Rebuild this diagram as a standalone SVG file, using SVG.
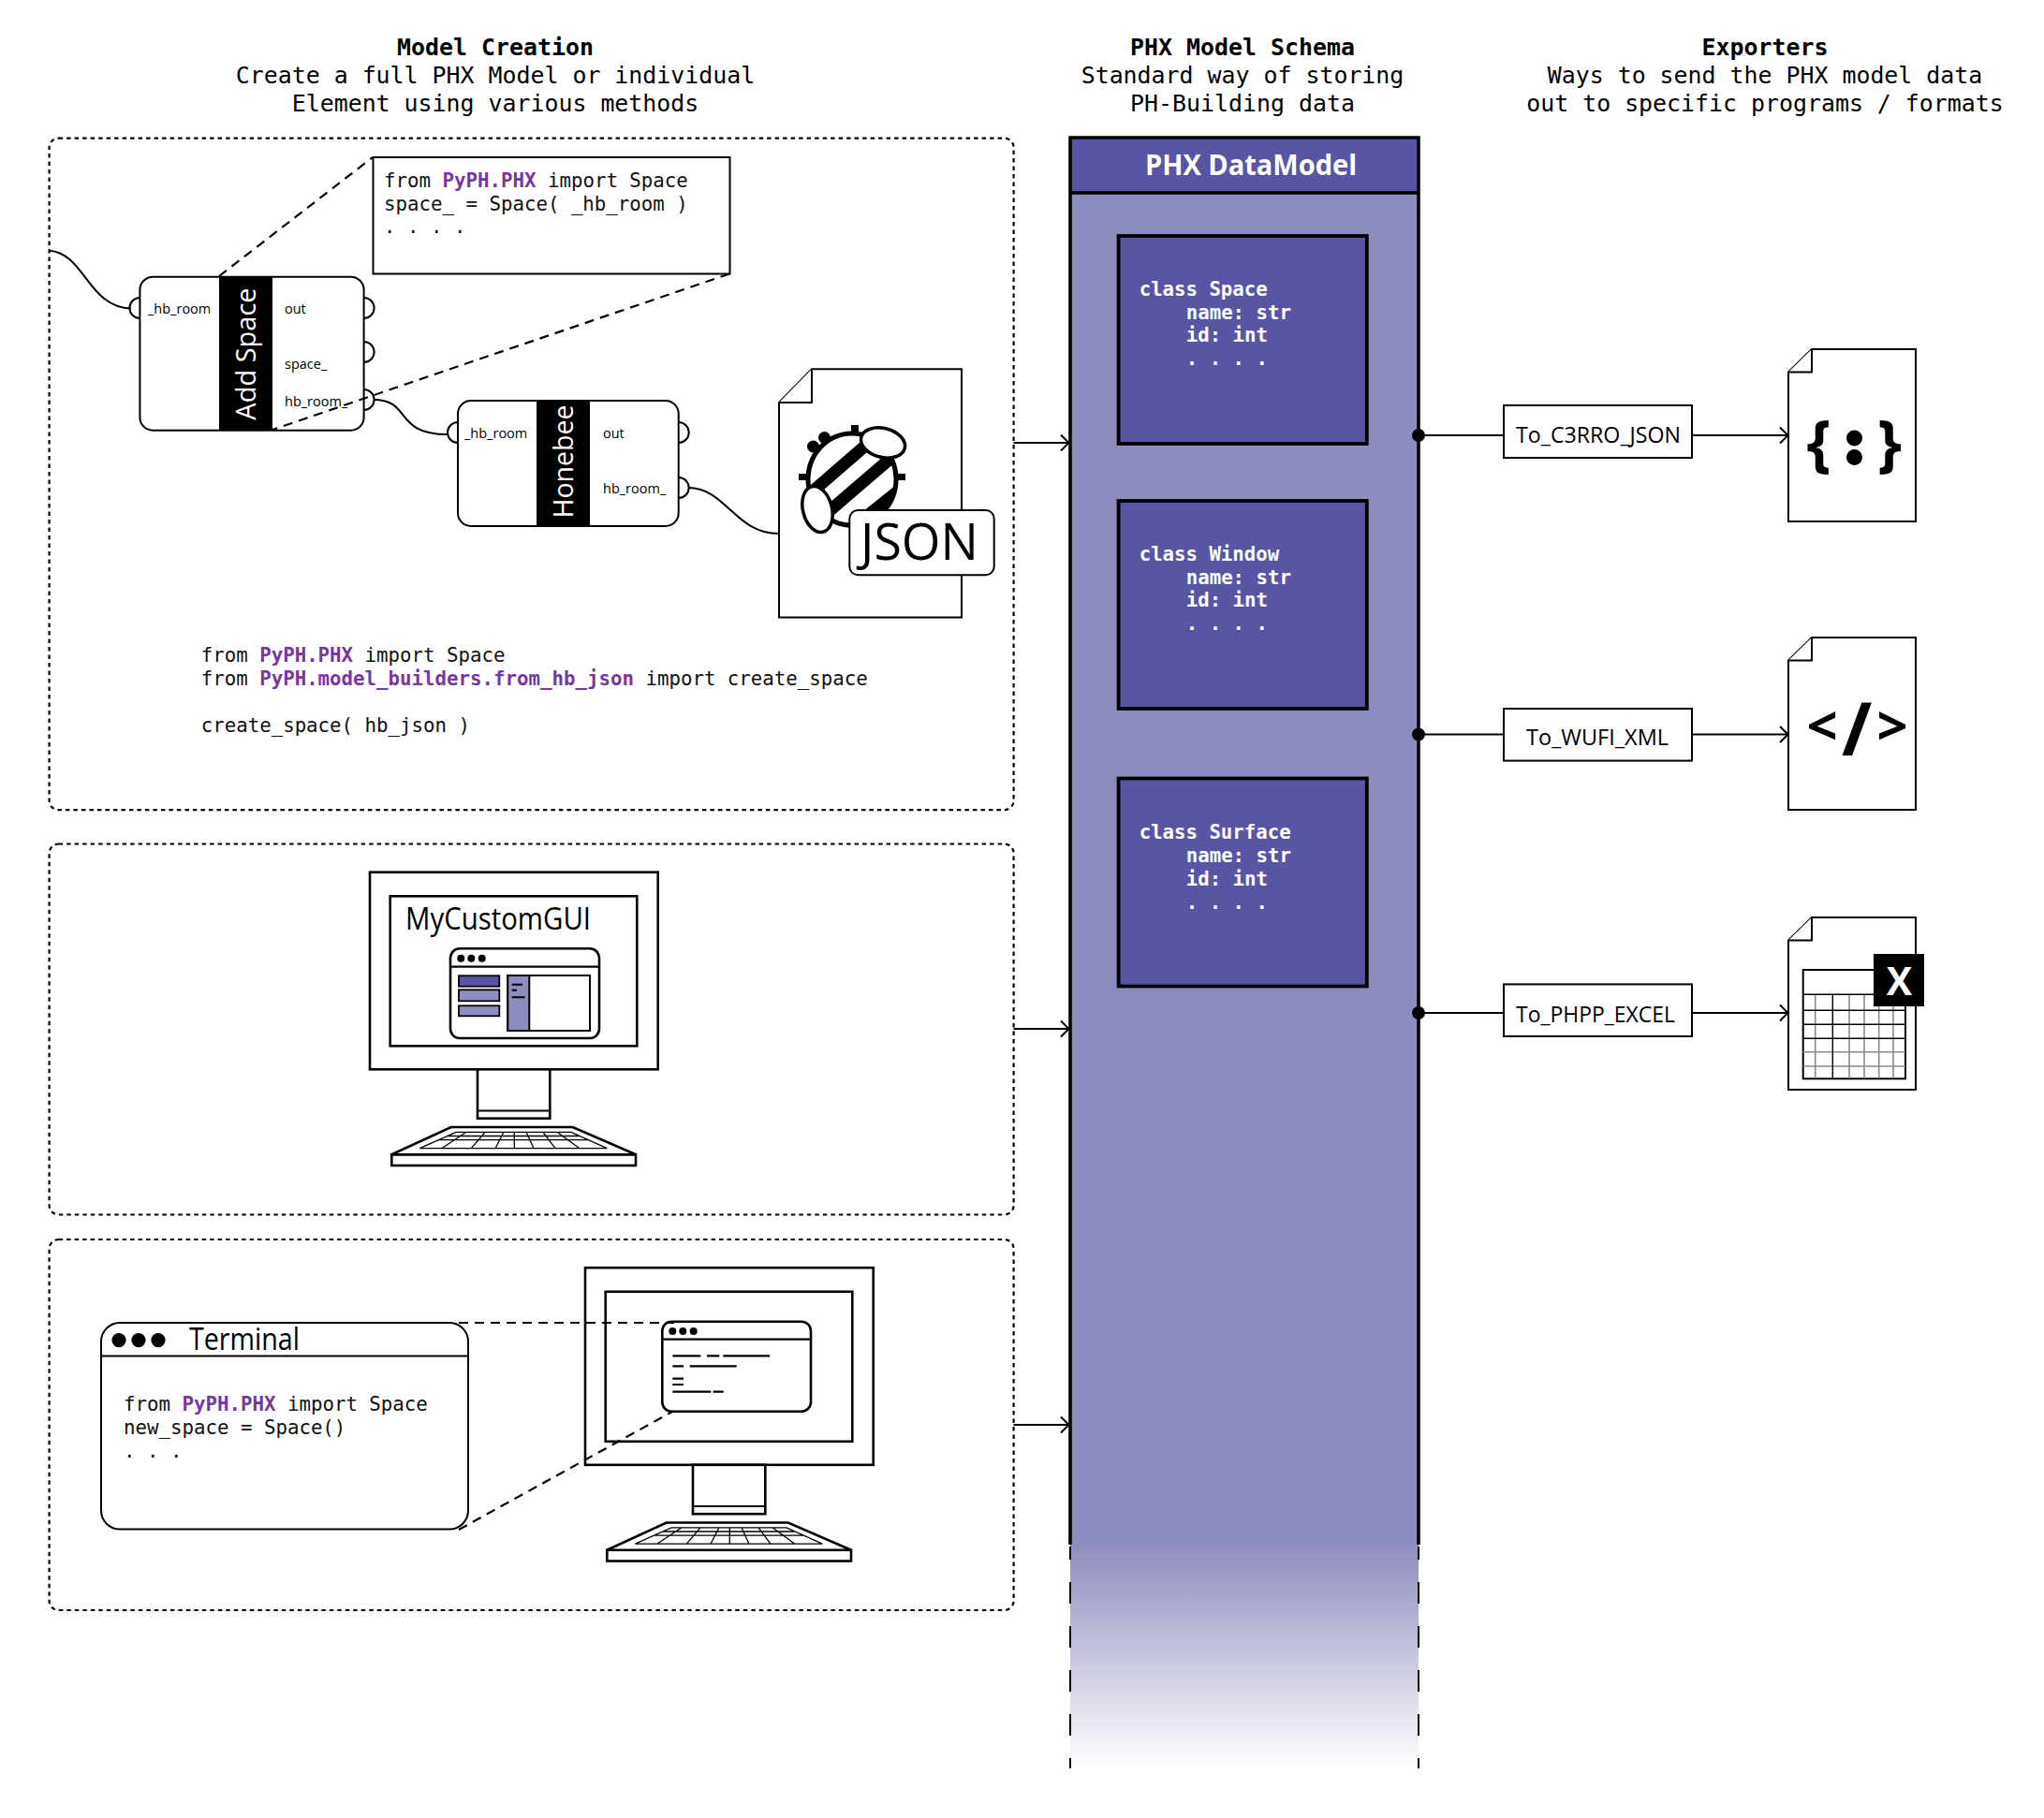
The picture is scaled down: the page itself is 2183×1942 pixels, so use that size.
<svg xmlns="http://www.w3.org/2000/svg" xmlns:xlink="http://www.w3.org/1999/xlink" width="2183" height="1942" viewBox="0 0 2183 1942">
<style>
text{white-space:pre}
.mono{font-family:"DejaVu Sans Mono","Liberation Mono",monospace}
.sans{font-family:"Open Sans","Noto Sans",sans-serif}
.title{font-size:24.9px;text-anchor:middle;fill:#000}
.b{font-weight:700}
.code{font-size:20.75px;fill:#111}
.pur{font-weight:700;fill:#76379f}
.cls{font-size:20.7px;font-weight:700;fill:#fff}
.lbl{font-size:14.5px;fill:#000}
.k{fill:none;stroke:#000;stroke-width:2}
.w{fill:#fff;stroke:#000;stroke-width:2}
.t{fill:#fff;stroke:#000;stroke-width:2.6}
.panel{fill:none;stroke:#000;stroke-width:2.2;stroke-dasharray:4.5 4}
.dash{fill:none;stroke:#000;stroke-width:2.2;stroke-dasharray:10 7}
.thin{fill:none;stroke:#000;stroke-width:1.3}
.thick{fill:none;stroke:#000;stroke-width:2.2}
.gy{stroke:#8a8a8a;stroke-width:1.6;fill:none}
.bk{stroke:#000;stroke-width:1.4;fill:none}
.dark{fill:#5856a4}
.light{fill:#8e8dbf}
.big{font-size:23.5px;fill:#000}
</style>
<defs>
<marker id="arr" markerUnits="userSpaceOnUse" markerWidth="14" markerHeight="22" refX="11.5" refY="11" orient="auto"><path d="M2.5 2.5 L11 11 L2.5 19.5" fill="none" stroke="#000" stroke-width="2"/></marker>
<linearGradient id="fade" x1="0" y1="0" x2="0" y2="1"><stop offset="0" stop-color="#8e8dbf"/><stop offset="1" stop-color="#8e8dbf" stop-opacity="0"/></linearGradient>
<clipPath id="beeClip"><ellipse cx="911" cy="512" rx="46" ry="47"/></clipPath>
<g id="monitor">
<rect class="t" x="395" y="931.7" width="307.7" height="210.6"/>
<rect class="t" x="416.7" y="957.3" width="263.6" height="160"/>
<rect class="t" x="510" y="1142.3" width="77.3" height="52.4"/>
<path class="k" d="M510 1186.5H587.3"/>
<rect class="t" x="418.3" y="1233.3" width="260.7" height="11.7"/>
<path class="t" d="M481.7 1204H611.7L679 1233.3H418.3Z"/>
<path class="thin" d="M448.3 1226.7H648.3L610 1209.3H487ZM468 1217.7H628M478 1213.5H618M471.7 1226.7L498 1209.3M503.3 1226.7L518 1209.3M529 1226.7L538 1209.3M549.3 1226.7V1209.3M570 1226.7L562 1209.3M593 1226.7L580 1209.3M619 1226.7L595 1209.3"/>
</g>
<g id="docShape">
<path class="w" d="M0 24.500L25 0H136V184H0Z"/>
<path class="w" d="M25 0V24.500H0"/>
</g>
</defs>
<rect width="2183" height="1942" fill="#fff"/>

<g id="titles">
<text class="mono title b" x="529" y="59">Model Creation</text>
<text class="mono title" x="529" y="89">Create a full PHX Model or individual</text>
<text class="mono title" x="529" y="119">Element using various methods</text>
<text class="mono title b" x="1327" y="59">PHX Model Schema</text>
<text class="mono title" x="1327" y="89">Standard way of storing</text>
<text class="mono title" x="1327" y="119">PH-Building data</text>
<text class="mono title b" x="1885" y="59">Exporters</text>
<text class="mono title" x="1885" y="89">Ways to send the PHX model data</text>
<text class="mono title" x="1885" y="119">out to specific programs / formats</text>
</g>

<g id="panels">
<rect id="panel-1" class="panel" x="52.6" y="147.6" width="1030" height="717.6" rx="10"/>
<rect id="panel-2" class="panel" x="52.6" y="901.5" width="1030" height="396" rx="10"/>
<rect id="panel-3" class="panel" x="52.6" y="1324" width="1030" height="396" rx="10"/>
</g>

<g id="schema">
<rect class="light" x="1143" y="206" width="372" height="1444"/>
<rect fill="url(#fade)" x="1143" y="1650" width="372" height="240"/>
<rect class="dark" x="1143" y="147" width="372" height="59"/>
<path fill="none" stroke="#000" stroke-width="3.6" d="M1143 1650V147H1515V1650M1143 206H1515"/>
<path fill="none" stroke="#000" stroke-width="2" stroke-dasharray="23 24" stroke-dashoffset="9" d="M1143 1652V1889M1515 1652V1889"/>
<text class="sans b" x="1223" y="187" font-size="30" font-weight="700" fill="#fff" textLength="226" lengthAdjust="spacingAndGlyphs">PHX DataModel</text>
</g>
<g id="class-space">
<rect class="dark" stroke="#000" stroke-width="3.8" x="1194.6" y="252" width="265.2" height="222"/>
<text class="mono cls" x="1216.7" y="316">class Space</text>
<text class="mono cls" x="1266.8" y="340.5">name: str</text>
<text class="mono cls" x="1266.8" y="365">id: int</text>
<text class="mono cls" x="1266.8" y="390">. . . .</text>
</g>
<g id="class-window">
<rect class="dark" stroke="#000" stroke-width="3.8" x="1194.6" y="535" width="265.2" height="222"/>
<text class="mono cls" x="1216.7" y="599">class Window</text>
<text class="mono cls" x="1266.8" y="623.500">name: str</text>
<text class="mono cls" x="1266.8" y="648">id: int</text>
<text class="mono cls" x="1266.8" y="673">. . . .</text>
</g>
<g id="class-surface">
<rect class="dark" stroke="#000" stroke-width="3.8" x="1194.6" y="831.5" width="265.2" height="222"/>
<text class="mono cls" x="1216.7" y="896">class Surface</text>
<text class="mono cls" x="1266.8" y="920.5">name: str</text>
<text class="mono cls" x="1266.8" y="945.5">id: int</text>
<text class="mono cls" x="1266.8" y="970.5">. . . .</text>
</g>

<g id="code-callout">
<rect class="w" x="398.5" y="168" width="381" height="124.5"/>
<text class="mono code" x="410" y="200">from <tspan class="pur">PyPH.PHX</tspan> import Space</text>
<text class="mono code" x="410" y="224.5">space_ = Space( _hb_room )</text>
<text class="mono code" x="410" y="249">. . . .</text>
</g>

<g id="node-add-space">
<path class="w" d="M149.4 318A11 11 0 0 0 149.4 340M388.6 318A11 11 0 0 1 388.6 340M388.6 365A11 11 0 0 1 388.6 387M388.6 416A11 11 0 0 1 388.6 438"/>
<rect class="w" x="149.4" y="295.7" width="239.2" height="164" rx="14"/>
<rect x="234" y="295.7" width="57" height="164" fill="#000"/>
<text class="sans" transform="translate(273 378) rotate(-90)" font-size="29" fill="#fff" text-anchor="middle">Add Space</text>
<text class="sans lbl" x="158" y="335">_hb_room</text>
<text class="sans lbl" x="304" y="335">out</text>
<text class="sans lbl" x="304" y="394">space_</text>
<text class="sans lbl" x="304" y="434">hb_room_</text>
</g>

<g id="node-honebee">
<path class="w" d="M489 451A11 11 0 0 0 489 473M724.7 451A11 11 0 0 1 724.7 473M724.7 510A11 11 0 0 1 724.7 532"/>
<rect class="w" x="489" y="428" width="235.7" height="134" rx="14"/>
<rect x="573" y="428" width="57" height="134" fill="#000"/>
<text class="sans" transform="translate(612 493) rotate(-90)" font-size="28.5" fill="#fff" text-anchor="middle">Honebee</text>
<text class="sans lbl" x="496" y="468">_hb_room</text>
<text class="sans lbl" x="644" y="468">out</text>
<text class="sans lbl" x="644" y="527">hb_room_</text>
</g>

<g id="json-file">
<path class="w" d="M832 430L867 394.3H1027V659.5H832Z"/>
<path class="w" d="M867 394.3V430H832"/>
<path d="M909 454h8v10h-8zM853 506h10v7h-10zM957 506h10v7h-10z" fill="#000"/>
<circle cx="868.5" cy="477" r="6.5" fill="#000"/>
<circle cx="880.5" cy="467.5" r="6.5" fill="#000"/>
<ellipse cx="910" cy="512" rx="47" ry="49" fill="#fff" stroke="#000" stroke-width="5"/>
<g clip-path="url(#beeClip)">
<path d="M862 530L945 458M882 549L960 482M900 572L975 512" stroke="#000" stroke-width="13" fill="none"/>
<path d="M905 570L970 520V570Z" fill="#000"/>
</g>
<ellipse cx="943" cy="473" rx="24" ry="15.5" transform="rotate(14 943 473)" fill="#fff" stroke="#000" stroke-width="3.5"/>
<ellipse cx="873" cy="544" rx="15.5" ry="25" transform="rotate(-14 873 544)" fill="#fff" stroke="#000" stroke-width="3.5"/>
<rect class="w" x="907.3" y="545" width="154.4" height="69.3" rx="9"/>
<text class="sans" x="919" y="598" font-size="54.5" fill="#000" textLength="126" lengthAdjust="spacingAndGlyphs">JSON</text>
</g>

<g id="code-json">
<text class="mono code" x="214.7" y="706.5">from <tspan class="pur">PyPH.PHX</tspan> import Space</text>
<text class="mono code" x="214.7" y="731.5">from <tspan class="pur">PyPH.model_builders.from_hb_json</tspan> import create_space</text>
<text class="mono code" x="214.7" y="781.5">create_space( hb_json )</text>
</g>

<g id="gui-monitor">
<use xlink:href="#monitor" href="#monitor"/>
<text class="sans" x="433" y="992.7" font-size="32" fill="#000" textLength="198" lengthAdjust="spacingAndGlyphs">MyCustomGUI</text>
<rect class="t" x="481" y="1013.3" width="159" height="95.7" rx="10"/>
<path class="thick" d="M481 1032.7H640"/>
<circle cx="492.3" cy="1023.7" r="4"/><circle cx="503.3" cy="1023.7" r="4"/><circle cx="514.7" cy="1023.7" r="4"/>
<rect class="dark" stroke="#000" stroke-width="1.8" x="490" y="1042.3" width="43.3" height="11.4"/>
<rect class="light" stroke="#000" stroke-width="1.8" x="490" y="1057.3" width="43.3" height="12"/>
<rect class="light" stroke="#000" stroke-width="1.8" x="490" y="1074.3" width="43.3" height="11"/>
<rect class="w" x="542.3" y="1042" width="87.7" height="59"/>
<rect class="light" stroke="#000" stroke-width="2" x="542.3" y="1042" width="23" height="59"/>
<path class="k" stroke-width="1.4" d="M546.7 1051.7H558M546.7 1057.7H552M546.7 1065.3H560.5"/>
</g>

<g id="terminal-monitor">
<use xlink:href="#monitor" href="#monitor" transform="translate(230 422.5)"/>
<rect class="t" x="707.3" y="1411.7" width="158.7" height="96" rx="10"/>
<path class="thick" d="M707.3 1430.7H866"/>
<circle cx="718.3" cy="1422" r="4"/><circle cx="729.3" cy="1422" r="4"/><circle cx="740.7" cy="1422" r="4"/>
<path class="thick" d="M718.3 1448.3H748.3M755 1448.3H768.3M772.3 1448.3H822M718.3 1459.3H730M736.7 1459.3H786.7M718.3 1472.7H730M718.3 1479H730M718.3 1486.7H759.3M761.7 1486.7H772.7"/>
</g>

<g id="terminal">
<rect class="w" x="108" y="1413" width="392" height="220.6" rx="20"/>
<path class="k" d="M108 1448.5H500"/>
<circle cx="127" cy="1431.6" r="7.6"/><circle cx="148" cy="1431.6" r="7.6"/><circle cx="169" cy="1431.6" r="7.6"/>
<text class="sans" x="202" y="1442" font-size="33" fill="#000" textLength="118" lengthAdjust="spacingAndGlyphs">Terminal</text>
<text class="mono code" x="132" y="1507">from <tspan class="pur">PyPH.PHX</tspan> import Space</text>
<text class="mono code" x="132" y="1532">new_space = Space()</text>
<text class="mono code" x="132" y="1557">. . .</text>
</g>

<g id="exp-c3rro"><rect class="w" x="1606" y="433" width="201" height="56"/><text class="sans big" x="1619" y="473" textLength="176" lengthAdjust="spacingAndGlyphs">To_C3RRO_JSON</text></g>
<g id="exp-wufi"><rect class="w" x="1606" y="757" width="201" height="55.6"/><text class="sans big" x="1630" y="796" textLength="152" lengthAdjust="spacingAndGlyphs">To_WUFI_XML</text></g>
<g id="exp-phpp"><rect class="w" x="1606" y="1051.4" width="201" height="55.6"/><text class="sans big" x="1619" y="1091.500" textLength="170" lengthAdjust="spacingAndGlyphs">To_PHPP_EXCEL</text></g>

<g id="file-json">
<use xlink:href="#docShape" href="#docShape" transform="translate(1910 373)"/>
<text class="sans b" x="1942.5" y="497" font-size="66" font-weight="700" text-anchor="middle">{</text>
<ellipse cx="1980.5" cy="468" rx="8.5" ry="8.500"/>
<ellipse cx="1980.5" cy="488.500" rx="8.5" ry="8.500"/>
<text class="sans b" x="2018" y="497" font-size="66" font-weight="700" text-anchor="middle">}</text>
</g>
<g id="file-xml">
<use xlink:href="#docShape" href="#docShape" transform="translate(1910 681)"/>
<text class="sans b" x="1946" y="796" font-size="58" font-weight="700" text-anchor="middle">&lt;</text>
<text class="sans b" x="1983" y="807" font-size="78" font-weight="700" text-anchor="middle">/</text>
<text class="sans b" x="2021" y="796" font-size="58" font-weight="700" text-anchor="middle">&gt;</text>
</g>
<g id="file-excel">
<use xlink:href="#docShape" href="#docShape" transform="translate(1910 980)"/>
<rect class="w" x="1925.7" y="1036" width="109.3" height="116.3"/>
<path class="gy" d="M1938.7 1062.3V1152M1975 1062.3V1152M1991 1062.3V1152M2006.7 1062.3V1152M2022 1062.3V1152M1925.7 1123.7H2035M1925.7 1139H2035"/>
<path class="bk" d="M1957.3 1062.3V1152M1925.7 1062.3H2035M1925.7 1079.3H2035M1925.7 1094.3H2035M1925.7 1109.3H2035"/>
<rect x="2001" y="1019" width="54" height="56" fill="#000"/>
<text class="sans b" x="2028.5" y="1063" font-size="41" font-weight="800" fill="#fff" text-anchor="middle">X</text>
</g>

<g id="connectors">
<path class="k" d="M52.6 267.7C90 270 95 329.4 140 329.4"/>
<path class="k" d="M399 427C440 427 420 464 478 464"/>
<path class="k" d="M735 521C775 521 785 570 832 570"/>
<path class="dash" d="M234 295L398 168"/>
<path class="dash" d="M779 292.5L291 459"/>
<path class="dash" d="M490 1413H720"/>
<path class="dash" d="M490 1634L718 1508"/>
<path class="k" marker-end="url(#arr)" d="M1082.5 473H1142"/>
<path class="k" marker-end="url(#arr)" d="M1082.5 1099H1142"/>
<path class="k" marker-end="url(#arr)" d="M1082.5 1522H1142"/>
<path class="k" d="M1515 465H1606"/>
<path class="k" d="M1515 784.5H1606"/>
<path class="k" d="M1515 1082H1606"/>
<path class="k" marker-end="url(#arr)" d="M1807 465H1910"/>
<path class="k" marker-end="url(#arr)" d="M1807 784.5H1910"/>
<path class="k" marker-end="url(#arr)" d="M1807 1082H1910"/>
<circle cx="1515" cy="465" r="7"/>
<circle cx="1515" cy="784.5" r="7"/>
<circle cx="1515" cy="1082" r="7"/>
</g>
</svg>
